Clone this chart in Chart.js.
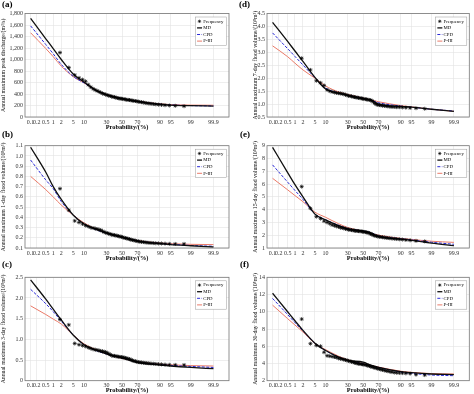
<!DOCTYPE html>
<html>
<head>
<meta charset="utf-8">
<script src="https://cdn.jsdelivr.net/npm/chart.js@4.4.0/dist/chart.umd.min.js"></script>
<style>
  html, body { margin: 0; padding: 0; background: #fff; }
  #wrap { position: relative; width: 474px; height: 394px; overflow: hidden; }
  #wrap canvas { position: absolute; }
  .tag { position: absolute; font: bold 9px "Liberation Serif", serif; line-height: 9px; color: #000; }
</style>
</head>
<body>
<div id="wrap">
  <canvas id="chart-a" width="237" height="131" style="left:0;top:0"></canvas>
  <canvas id="chart-d" width="237" height="131" style="left:237px;top:0"></canvas>
  <canvas id="chart-b" width="237" height="131" style="left:0;top:131px"></canvas>
  <canvas id="chart-e" width="237" height="131" style="left:237px;top:131px"></canvas>
  <canvas id="chart-c" width="237" height="132" style="left:0;top:262px"></canvas>
  <canvas id="chart-f" width="237" height="132" style="left:237px;top:262px"></canvas>
  <span class="tag" style="left:2px;top:0">(a)</span>
  <span class="tag" style="left:2px;top:130px">(b)</span>
  <span class="tag" style="left:2px;top:260px">(c)</span>
  <span class="tag" style="left:239px;top:0">(d)</span>
  <span class="tag" style="left:240px;top:130px">(e)</span>
  <span class="tag" style="left:240px;top:260px">(f)</span>
</div>
<script>
// probability axis tick labels (%)
const probTicks = [0.1, 0.2, 0.5, 1, 2, 5, 10, 30, 50, 70, 90, 95, 99, 99.9];

// empirical frequency of the observed series (%)
const freqP = [1.8, 3.6, 5.5, 7.3, 9.1, 10.9, 12.7, 14.5, 16.4, 18.2,
  20, 21.8, 23.6, 25.5, 27.3, 29.1, 30.9, 32.7, 34.5, 36.4,
  38.2, 40, 41.8, 43.6, 45.5, 47.3, 49.1, 50.9, 52.7, 54.5,
  56.4, 58.2, 60, 61.8, 63.6, 65.5, 67.3, 69.1, 70.9, 72.7,
  74.5, 76.4, 78.2, 80, 81.8, 83.6, 85.5, 87.3, 89.1, 90.9,
  92.7, 94.5, 96.4, 98.2];

// probabilities where the fitted curves are read (%)
const curveP = [0.1, 0.5, 1, 2, 5, 10, 20, 30, 50, 60, 70, 90, 95, 99, 99.9];

// (a) peak discharge
const peakFreq = [1120, 860, 730, 680, 650, 620, 560, 520, 490, 470,
  455, 440, 425, 410, 400, 390, 380, 372, 365, 355,
  350, 345, 338, 330, 325, 320, 318, 315, 310, 305,
  300, 298, 295, 290, 285, 282, 278, 272, 268, 262,
  258, 252, 246, 240, 235, 230, 225, 220, 215, 210,
  205, 200, 195, 188];
const peakMD = [1715, 1360, 1190, 1000, 745, 605, 455, 390, 318, 295, 270, 222, 208, 197, 190];
const peakCPD = [1585, 1260, 1100, 915, 705, 592, 452, 388, 318, 295, 270, 223, 210, 198, 192];
const peakP3 = [1465, 1190, 1050, 885, 700, 592, 455, 393, 320, 297, 273, 228, 215, 207, 205];

// (b) 1-day volume
const day1Freq = [0.68, 0.47, 0.365, 0.35, 0.335, 0.32, 0.31, 0.30, 0.295, 0.29,
  0.285, 0.28, 0.275, 0.265, 0.255, 0.25, 0.245, 0.24, 0.235, 0.23,
  0.228, 0.225, 0.222, 0.22, 0.215, 0.212, 0.21, 0.205, 0.2, 0.197,
  0.194, 0.19, 0.186, 0.182, 0.178, 0.175, 0.172, 0.168, 0.165, 0.162,
  0.16, 0.158, 0.155, 0.153, 0.151, 0.15, 0.148, 0.146, 0.145, 0.144,
  0.143, 0.141, 0.14, 0.14];
const day1MD = [1.085, 0.84, 0.70, 0.575, 0.42, 0.335, 0.28, 0.248, 0.207, 0.188, 0.168, 0.142, 0.133, 0.122, 0.11];
const day1CPD = [0.96, 0.765, 0.68, 0.555, 0.42, 0.335, 0.275, 0.245, 0.207, 0.19, 0.17, 0.145, 0.137, 0.125, 0.117];
const day1P3 = [0.80, 0.67, 0.60, 0.52, 0.42, 0.345, 0.28, 0.248, 0.205, 0.188, 0.172, 0.148, 0.142, 0.136, 0.133];

// (c) 3-day volume
const day3Freq = [1.48, 1.35, 0.9, 0.87, 0.85, 0.83, 0.8, 0.78, 0.76, 0.75,
  0.74, 0.73, 0.72, 0.71, 0.7, 0.69, 0.67, 0.65, 0.63, 0.61,
  0.6, 0.6, 0.59, 0.585, 0.58, 0.575, 0.57, 0.565, 0.56, 0.55,
  0.54, 0.53, 0.52, 0.51, 0.49, 0.48, 0.47, 0.46, 0.45, 0.445,
  0.44, 0.435, 0.43, 0.425, 0.42, 0.415, 0.41, 0.405, 0.4, 0.395,
  0.39, 0.385, 0.382, 0.38];
const day3MD = [2.44, 1.97, 1.73, 1.47, 1.1, 0.87, 0.73, 0.65, 0.55, 0.5, 0.44, 0.38, 0.355, 0.32, 0.29];
const day3CPD = [2.21, 1.86, 1.67, 1.44, 1.1, 0.87, 0.72, 0.645, 0.55, 0.5, 0.45, 0.39, 0.37, 0.345, 0.32];
const day3P3 = [1.81, 1.6, 1.49, 1.37, 1.1, 0.89, 0.74, 0.65, 0.54, 0.5, 0.455, 0.4, 0.385, 0.365, 0.355];

// (d) 7-day volume
const day7Freq = [2.77, 2.32, 1.9, 1.82, 1.72, 1.55, 1.5, 1.47, 1.45, 1.43,
  1.42, 1.41, 1.4, 1.38, 1.36, 1.34, 1.32, 1.31, 1.3, 1.28,
  1.27, 1.26, 1.25, 1.24, 1.23, 1.22, 1.21, 1.2, 1.19, 1.18,
  1.17, 1.16, 1.15, 1.12, 1.08, 1.02, 0.99, 0.97, 0.96, 0.95,
  0.94, 0.93, 0.92, 0.91, 0.9, 0.89, 0.89, 0.88, 0.88, 0.87,
  0.86, 0.85, 0.84, 0.82];
const day7MD = [4.16, 3.42, 3.05, 2.65, 2.03, 1.58, 1.42, 1.34, 1.21, 1.16, 1.0, 0.91, 0.88, 0.8, 0.72];
const day7CPD = [3.75, 3.14, 2.84, 2.51, 2.02, 1.62, 1.43, 1.34, 1.22, 1.15, 1.05, 0.92, 0.88, 0.8, 0.73];
const day7P3 = [3.25, 2.83, 2.58, 2.32, 2.0, 1.7, 1.47, 1.37, 1.23, 1.16, 1.09, 0.94, 0.89, 0.8, 0.72];

// (e) 15-day volume
const day15Freq = [5.8, 4.1, 3.45, 3.3, 3.1, 3.0, 2.9, 2.8, 2.75, 2.7,
  2.65, 2.6, 2.57, 2.54, 2.5, 2.47, 2.44, 2.42, 2.4, 2.38,
  2.36, 2.34, 2.33, 2.32, 2.31, 2.3, 2.28, 2.26, 2.24, 2.22,
  2.2, 2.15, 2.1, 2.05, 2.0, 1.96, 1.93, 1.9, 1.88, 1.86,
  1.84, 1.82, 1.8, 1.78, 1.76, 1.74, 1.72, 1.7, 1.68, 1.66,
  1.63, 1.6, 1.56, 1.52];
const day15MD = [8.87, 6.9, 5.95, 5.0, 3.65, 3.2, 2.75, 2.5, 2.33, 2.2, 1.9, 1.7, 1.6, 1.38, 1.18];
const day15CPD = [7.5, 6.15, 5.5, 4.8, 3.65, 3.2, 2.78, 2.52, 2.33, 2.2, 1.95, 1.72, 1.63, 1.45, 1.29];
const day15P3 = [6.45, 5.55, 5.1, 4.62, 3.8, 3.4, 2.9, 2.6, 2.3, 2.15, 2.0, 1.75, 1.67, 1.53, 1.44];

// (f) 30-day volume
const day30Freq = [9.15, 6.3, 6.1, 6.0, 5.3, 4.9, 4.85, 4.8, 4.75, 4.7,
  4.6, 4.55, 4.5, 4.45, 4.4, 4.35, 4.3, 4.25, 4.2, 4.15,
  4.1, 4.05, 4.0, 3.98, 3.95, 3.92, 3.9, 3.88, 3.85, 3.8,
  3.75, 3.7, 3.65, 3.6, 3.55, 3.5, 3.45, 3.4, 3.35, 3.3,
  3.25, 3.2, 3.15, 3.1, 3.05, 3.0, 2.95, 2.92, 2.9, 2.88,
  2.85, 2.82, 2.7, 2.65];
const day30MD = [12.15, 10.0, 8.96, 7.84, 6.35, 5.5, 4.75, 4.35, 4.15, 3.8, 3.55, 3.05, 2.93, 2.78, 2.7];
const day30CPD = [11.55, 9.67, 8.74, 7.77, 6.35, 5.5, 4.75, 4.35, 3.95, 3.75, 3.55, 3.0, 2.85, 2.66, 2.58];
const day30P3 = [10.77, 9.2, 8.46, 7.65, 6.3, 5.6, 4.85, 4.42, 3.98, 3.78, 3.58, 3.1, 2.97, 2.83, 2.78];

// inverse standard normal (Acklam), used by the probability axis
function probit(p) {
  const a = [-39.69683028665376, 220.9460984245205, -275.9285104469687, 138.3577518672690, -30.66479806614716, 2.506628277459239];
  const b = [-54.47609879822406, 161.5858368580409, -155.6989798598866, 66.80131188771972, -13.28068155288572];
  const c = [-0.007784894002430293, -0.3223964580411365, -2.400758277161838, -2.549732539343734, 4.374664141464968, 2.938163982698783];
  const d = [0.007784695709041462, 0.3224671290700398, 2.445134137142996, 3.754408661907416];
  let q, r;
  if (p < 0.02425) {
    q = Math.sqrt(-2 * Math.log(p));
    return (((((c[0]*q + c[1])*q + c[2])*q + c[3])*q + c[4])*q + c[5]) / ((((d[0]*q + d[1])*q + d[2])*q + d[3])*q + 1);
  }
  if (p <= 1 - 0.02425) {
    q = p - 0.5; r = q * q;
    return (((((a[0]*r + a[1])*r + a[2])*r + a[3])*r + a[4])*r + a[5])*q / (((((b[0]*r + b[1])*r + b[2])*r + b[3])*r + b[4])*r + 1);
  }
  q = Math.sqrt(-2 * Math.log(1 - p));
  return -(((((c[0]*q + c[1])*q + c[2])*q + c[3])*q + c[4])*q + c[5]) / ((((d[0]*q + d[1])*q + d[2])*q + d[3])*q + 1);
}

function normCdf(z) {
  const t = 1 / (1 + 0.3275911 * Math.abs(z) / Math.SQRT2);
  const e = 1 - (((((1.061405429*t - 1.453152027)*t) + 1.421413741)*t - 0.284496736)*t + 0.254829592)*t * Math.exp(-z*z/2);
  return z >= 0 ? (1 + e) / 2 : (1 - e) / 2;
}

// normal probability paper axis
class ProbabilityScale extends Chart.Scale {
  static id = 'probability';
  static defaults = {};
  parse(raw) { return +raw; }
  determineDataLimits() {
    this.min = this.options.min;
    this.max = this.options.max;
  }
  buildTicks() { return probTicks.map(v => ({ value: v })); }
  getLabelForValue(v) { return String(v); }
  configure() {
    super.configure();
    this._z0 = probit(this.min / 100);
    this._z1 = probit(this.max / 100);
  }
  getPixelForValue(v) {
    return this.getPixelForDecimal((probit(v / 100) - this._z0) / (this._z1 - this._z0));
  }
  getValueForPixel(px) {
    const z = this._z0 + this.getDecimalForPixel(px) * (this._z1 - this._z0);
    return normCdf(z) * 100;
  }
}
Chart.register(ProbabilityScale);

// plot frame + boxed legend in the upper right corner
const boxLegend = {
  id: 'boxLegend',
  afterDatasetsDraw(chart) {
    const { ctx, chartArea: area } = chart;
    ctx.save();
    ctx.strokeStyle = '#777';
    ctx.lineWidth = 0.8;
    ctx.strokeRect(area.left, area.top, area.right - area.left, area.bottom - area.top);

    const sets = chart.data.datasets;
    ctx.font = '4.8px "Liberation Serif"';
    let textW = 0;
    sets.forEach(s => { textW = Math.max(textW, ctx.measureText(s.label).width); });
    const rowH = 6.6;
    const w = textW + 11, h = rowH * sets.length + 2;
    const x = area.right - w - 2.5, y = area.top + 3.5;
    ctx.fillStyle = '#fff';
    ctx.fillRect(x, y, w, h);
    ctx.strokeStyle = '#999';
    ctx.lineWidth = 0.5;
    ctx.strokeRect(x, y, w, h);
    sets.forEach((s, i) => {
      const cy = y + 1 + rowH * (i + 0.5);
      ctx.setLineDash([]);
      if (s.showLine === false) {
        ctx.strokeStyle = '#000';
        ctx.fillStyle = '#000';
        ctx.lineWidth = 0.6;
        Chart.helpers.drawPoint(ctx, { pointStyle: 'star', radius: 1.7, rotation: 0, borderWidth: 0.6 }, x + 4.2, cy);
      } else {
        ctx.strokeStyle = s.borderColor;
        ctx.lineWidth = s.borderWidth;
        ctx.setLineDash(s.borderDash || []);
        ctx.beginPath();
        ctx.moveTo(x + 1.8, cy);
        ctx.lineTo(x + 6.8, cy);
        ctx.stroke();
      }
      ctx.setLineDash([]);
      ctx.fillStyle = '#000';
      ctx.textBaseline = 'middle';
      ctx.fillText(s.label, x + 8, cy);
    });
    ctx.restore();
  }
};

const panels = [
  { id: 'chart-a', right: false, padTop: 13.5, xh: 14, y: [0, 1800, 200],
    title: 'Annual maximum peak discharge/(m³/s)', freq: peakFreq, md: peakMD, cpd: peakCPD, p3: peakP3 },
  { id: 'chart-b', right: false, padTop: 14.7, xh: 14, y: [0.1, 1.1, 0.1],
    title: 'Annual maximum 1-day flood volume/(10⁸m³)', freq: day1Freq, md: day1MD, cpd: day1CPD, p3: day1P3 },
  { id: 'chart-c', right: false, padTop: 15.3, xh: 13.3, y: [0, 2.5, 0.5],
    title: 'Annual maximum 3-day flood volume/(10⁸m³)', freq: day3Freq, md: day3MD, cpd: day3CPD, p3: day3P3 },
  { id: 'chart-d', right: true, padTop: 13.5, xh: 14, y: [0.5, 4.5, 0.5],
    title: 'Annual maximum 7-day flood volume/(10⁸m³)', freq: day7Freq, md: day7MD, cpd: day7CPD, p3: day7P3 },
  { id: 'chart-e', right: true, padTop: 14.7, xh: 14, y: [1, 9, 1],
    title: 'Annual maximum 15-day flood volume/(10⁸m³)', freq: day15Freq, md: day15MD, cpd: day15CPD, p3: day15P3 },
  { id: 'chart-f', right: true, padTop: 15.3, xh: 13.3, y: [2, 14, 2],
    title: 'Annual maximum 30-day flood volume/(10⁸m³)', freq: day30Freq, md: day30MD, cpd: day30CPD, p3: day30P3 }
];

const serif = '"Liberation Serif", "Times New Roman", serif';
const gridColor = '#e3e3e3';

function toPoints(xs, ys) {
  return xs.map((x, i) => ({ x: x, y: ys[i] }));
}

panels.forEach(function(p) {
  const curve = (label, values, color, width, dash) => ({
    label: label,
    data: toPoints(curveP, values),
    borderColor: color,
    borderWidth: width,
    borderDash: dash,
    pointRadius: 0,
    cubicInterpolationMode: 'monotone',
    fill: false
  });

  new Chart(document.getElementById(p.id), {
    type: 'line',
    data: {
      datasets: [
        {
          label: 'Frequency',
          data: toPoints(freqP, p.freq),
          showLine: false,
          pointStyle: 'star',
          pointRadius: 2,
          pointBorderColor: '#000',
          pointBackgroundColor: '#000',
          pointBorderWidth: 0.7
        },
        curve('MD', p.md, '#111', 1.3, []),
        curve('CPD', p.cpd, '#2a2ad6', 1, [3, 1.5]),
        curve('P-III', p.p3, '#ea7a68', 1, [])
      ]
    },
    options: {
      responsive: false,
      animation: false,
      events: [],
      layout: {
        padding: { left: 0, right: p.right ? 2 : 8, top: p.padTop, bottom: 0 }
      },
      plugins: {
        legend: { display: false },
        tooltip: { enabled: false }
      },
      scales: {
        x: {
          type: 'probability',
          min: 0.052,
          max: 99.985,
          afterFit: s => { s.height = p.xh; },
          grid: { color: gridColor, lineWidth: 0.6, drawTicks: false },
          border: { display: false },
          ticks: {
            autoSkip: false, maxRotation: 0, minRotation: 0, padding: 1.5,
            color: '#333', font: { family: serif, size: 6 }
          },
          title: {
            display: true, text: 'Probability/(%)', color: '#000',
            padding: { top: 0, bottom: 0 },
            font: { family: serif, size: 6.3, weight: 'bold' }
          }
        },
        y: {
          min: p.y[0],
          max: p.y[1],
          afterFit: s => { s.width = p.right ? 30 : 25; },
          grid: { color: gridColor, lineWidth: 0.6, drawTicks: false },
          border: { display: false },
          ticks: {
            stepSize: p.y[2], padding: 2,
            color: '#333', font: { family: serif, size: 6 }
          },
          title: {
            display: true, text: p.title, color: '#111',
            padding: { top: p.right ? 15 : 0, bottom: 0 },
            font: { family: serif, size: 5.8 }
          }
        }
      }
    },
    plugins: [boxLegend]
  });
});
</script>
</body>
</html>
